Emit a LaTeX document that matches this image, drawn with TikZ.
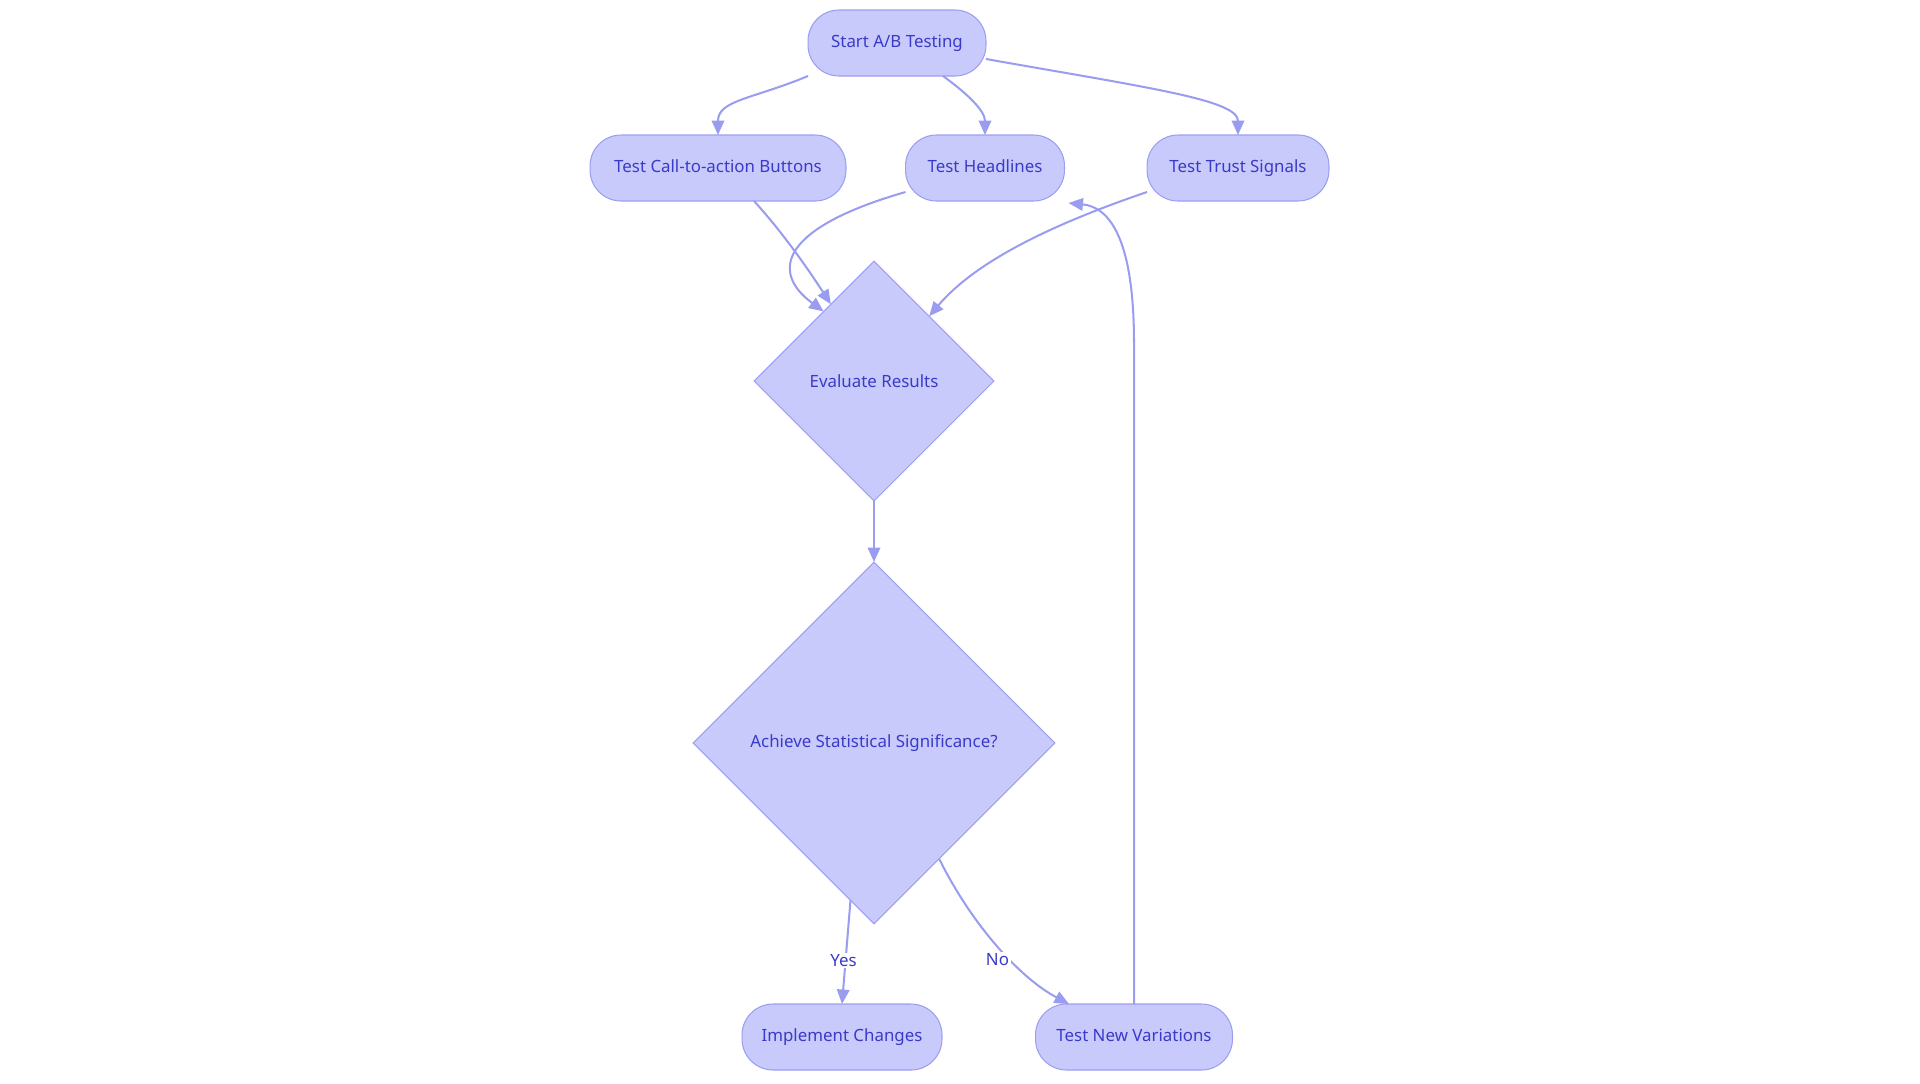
\documentclass[tikz,border=0pt]{standalone}
\usepackage{fontspec}
\setmainfont{Noto Sans}
\usepackage{tikz}
\usetikzlibrary{positioning,arrows.meta,calc,shapes.geometric}
\definecolor{nodefill}{HTML}{C8CAFC}
\definecolor{nodeline}{HTML}{9C9EF2}
\definecolor{nodetext}{HTML}{3A3AC8}
\definecolor{edgeline}{HTML}{9A9CF0}
\newcommand{\lblfont}{\fontsize{9.6pt}{12pt}\selectfont}

\begin{document}
\begin{tikzpicture}[
  x=0.02cm, y=-0.02cm,
  >={Triangle[length=0.29cm,width=0.25cm]},
  box/.style={rectangle,rounded corners=0.62cm,draw=nodeline,fill=nodefill,line width=0.6pt,
    minimum height=1.32cm,inner sep=0pt,outer sep=0pt,text=nodetext,font=\lblfont,
    text height=0.72em,text depth=0.22em},
  dec/.style={diamond,aspect=1,draw=nodeline,fill=nodefill,line width=0.6pt,
    inner sep=0pt,outer sep=0pt,text=nodetext,font=\lblfont},
  flow/.style={->,draw=edgeline,line width=1.15pt},
  elbl/.style={fill=white,inner sep=1pt,text=nodetext,font=\lblfont}
]
\useasboundingbox (0,0) rectangle (1920,1083);

% --- top row ---
\node[box,minimum width=3.56cm] (start) at (897,43)  {Start A/B Testing};
\node[box,minimum width=5.12cm] (cta)   at (718,168) {Test Call-to-action Buttons};
\node[box,minimum width=3.18cm] (hdl)   at (985,168) {Test Headlines};
\node[box,minimum width=3.64cm] (trust) at (1238,168) {Test Trust Signals};

% --- decisions ---
\node[dec,minimum width=4.8cm,minimum height=4.8cm] (eval) at (874,381) {Evaluate Results};
\node[dec,minimum width=7.24cm,minimum height=7.24cm] (sig) at (874,743) {Achieve Statistical Significance?};

% --- bottom row ---
\node[box,minimum width=4.0cm]  (impl) at (842,1037)  {Implement Changes};
\node[box,minimum width=3.94cm] (newv) at (1134,1037) {Test New Variations};

% --- start fans out ---
\draw[flow] (start.south west) .. controls (753,99) and (718,100) .. (cta.north);
\draw[flow] ($(start.south)+(46,0)$) .. controls (965,92) and (985,110) .. (hdl.north);
\draw[flow] ($(start.east)+(0,16)$) .. controls (1150,88) and (1238,100) .. (trust.north);

% --- into evaluation ---
\draw[flow] ($(cta.south)+(36,0)$) .. controls (785,235) and (812,275) .. ($(eval.north)!0.36!(eval.west)$);
\draw[flow] ($(hdl.west)+(0,24)$) .. controls (780,228) and (770,272) .. ($(eval.north)!0.42!(eval.west)$);
\draw[flow] ($(trust.west)+(0,24)$) .. controls (1050,225) and (975,262) .. ($(eval.north)!0.46!(eval.east)$);
\draw[flow] (eval.south) -- (sig.north);

% --- outcome ---
\draw[flow] ($(sig.south)!0.13!(sig.west)$) -- node[elbl,pos=0.58,xshift=-0.04cm]{Yes} (impl.north);
\draw[flow] ($(sig.south)!0.36!(sig.east)$) .. controls (972,925) and (1020,978) .. node[elbl,pos=0.57,xshift=-0.2cm,yshift=-0.06cm]{No} ($(newv.north)+(-65,0)$);

% --- loop back ---
\draw[flow] (newv.north) -- (1134,343) .. controls (1134,240) and (1110,207) .. ($(hdl.south east)+(4,2)$);
\end{tikzpicture}
\end{document}
